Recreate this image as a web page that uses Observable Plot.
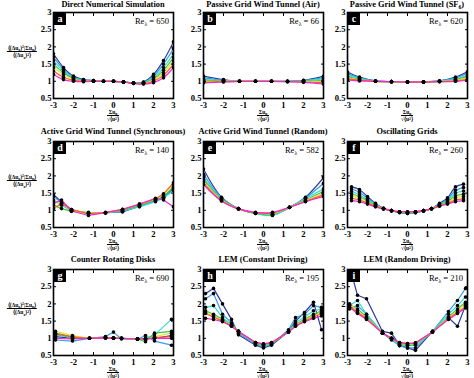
<!DOCTYPE html>
<html><head><meta charset="utf-8">
<script src="https://cdn.jsdelivr.net/npm/d3@7"></script>
<script src="https://cdn.jsdelivr.net/npm/@observablehq/plot@0.6"></script>
<style>
body{margin:0;background:#fff}
#root{position:relative;width:474px;height:378px;font-family:"Liberation Serif",serif;overflow:hidden;background:#fff}
.pnl{position:absolute}
.title{position:absolute;font-weight:bold;font-size:8.4px;text-align:center;white-space:nowrap;transform:translateX(-50%);line-height:1}
.badge{position:absolute;background:#000;color:#fff;font-weight:bold;font-size:10px;width:12px;height:12px;line-height:12px;text-align:center}
.re{position:absolute;font-size:8.5px;white-space:nowrap;text-align:right;line-height:1}
.frac{position:absolute;font-weight:bold;text-align:center;white-space:nowrap;transform:translateX(-50%)}
.frac div{line-height:1.15}
.frac .n{border-bottom:0.6px solid #000;padding:0 1px}
.ylab{font-size:5.6px}
.xlab{font-size:5.5px}
sub,sup{font-size:68%;vertical-align:baseline;position:relative;line-height:0}
sub{top:0.3em} sup{top:-0.45em}
</style></head>
<body><div id="root"></div>
<script>
const colors = ["#2c3a9e","#3a9ee8","#34dcd4","#3cc83c","#e8e23c","#ff5a2a","#f02ccc"];
const panelLetters = ["a","b","c","d","e","f","g","h","i"];
const panelTitles = ["Direct Numerical Simulation","Passive Grid Wind Tunnel (Air)","Passive Grid Wind Tunnel  (SF<sub>6</sub>)",
  "Active Grid Wind Tunnel (Synchronous)","Active Grid Wind Tunnel (Random)","Oscillating Grids",
  "Counter Rotating Disks","LEM (Constant Driving)","LEM (Random Driving)"];
const reValues = [650, 66, 620, 140, 582, 260, 690, 195, 210];
const xTicks = [-3,-2,-1,0,1,2,3];
const yTicks = [0.5,1,1.5,2,2.5,3];

const xsA = [-3,-2.5,-2,-1.5,-1,-0.5,0,0.5,1,1.5,2,2.5,3];
const ysA = [
  [1.80,1.40,1.15,1.05,1.02,1.00,1.00,0.98,0.95,0.98,1.20,1.60,2.15],
  [1.70,1.35,1.12,1.04,1.02,1.00,1.00,0.98,0.95,0.97,1.15,1.50,1.95],
  [1.60,1.30,1.10,1.03,1.01,1.00,1.00,0.98,0.95,0.96,1.10,1.40,1.80],
  [1.50,1.25,1.08,1.02,1.01,1.00,1.00,0.98,0.95,0.95,1.07,1.32,1.70],
  [1.40,1.20,1.06,1.01,1.00,1.00,1.00,0.98,0.94,0.94,1.04,1.25,1.60],
  [1.30,1.12,1.03,1.00,1.00,1.00,1.00,0.98,0.94,0.93,1.00,1.18,1.50],
  [1.20,1.05,1.00,0.99,1.00,1.00,1.00,0.98,0.94,0.92,0.96,1.10,1.40]];
const xsB = [-3,-2,-1.2,-0.4,0.4,1.2,2,3];
const ysB = [
  [1.15,1.05,1.00,1.00,1.00,1.00,1.03,1.15],
  [1.10,1.03,1.00,1.00,1.00,1.00,1.02,1.10],
  [1.06,1.02,1.00,1.00,1.00,1.00,1.01,1.07],
  [1.03,1.01,1.00,1.00,1.00,1.00,1.00,1.03],
  [1.00,1.00,1.00,1.00,1.00,0.99,0.99,1.00],
  [0.97,0.99,1.00,1.00,1.00,0.99,0.98,0.96],
  [0.95,0.98,1.00,1.00,1.00,0.99,0.97,0.92]];
const xsC = [-3,-2.4,-1.6,-0.8,0,0.8,1.6,2.4,3];
const ysC = [
  [1.27,1.12,1.01,0.99,0.98,0.98,1.01,1.12,1.28],
  [1.22,1.10,1.01,0.99,0.98,0.98,1.01,1.10,1.23],
  [1.18,1.08,1.00,0.99,0.98,0.98,1.00,1.07,1.18],
  [1.14,1.06,1.00,0.99,0.98,0.98,1.00,1.05,1.14],
  [1.10,1.04,1.00,0.99,0.98,0.98,1.00,1.03,1.10],
  [1.07,1.03,1.00,0.99,0.98,0.98,0.99,1.01,1.06],
  [1.04,1.01,1.00,0.99,0.98,0.98,0.99,1.00,1.03]];
const xsD = [-3,-2.6,-2.1,-1.25,-0.4,0.45,1.3,2.1,2.5,3];
const ysD = [
  [1.45,1.25,1.02,0.90,0.93,0.95,1.12,1.28,1.38,1.62],
  [1.40,1.22,1.00,0.92,0.93,0.97,1.13,1.28,1.38,1.65],
  [1.30,1.15,0.98,0.90,0.92,0.98,1.10,1.25,1.35,1.58],
  [1.15,1.05,0.97,0.94,0.93,1.00,1.14,1.30,1.40,1.68],
  [1.25,1.18,1.00,0.92,0.93,1.02,1.17,1.32,1.45,1.75],
  [1.05,1.20,1.02,0.90,0.94,1.03,1.18,1.33,1.48,1.80],
  [1.20,1.30,0.98,0.85,0.93,1.02,1.18,1.35,1.30,1.10]];
const xsE = [-3,-2.1,-1.25,-0.4,0.45,1.3,2.1,3];
const ysE = [
  [2.20,1.38,1.05,0.92,0.88,1.08,1.38,1.95],
  [2.05,1.36,1.05,0.91,0.86,1.08,1.36,1.78],
  [1.95,1.34,1.05,0.91,0.85,1.08,1.34,1.62],
  [1.90,1.32,1.05,0.92,0.88,1.09,1.30,1.55],
  [1.85,1.30,1.04,0.93,0.90,1.09,1.28,1.50],
  [1.80,1.28,1.04,0.93,0.92,1.09,1.26,1.45],
  [1.75,1.27,1.04,0.94,0.94,1.09,1.25,1.40]];
const xsF = [-2.8,-2.4,-2.0,-1.6,-1.2,-0.8,-0.4,0,0.4,0.8,1.2,1.6,2.0,2.4,2.8];
const ysF = [
  [1.68,1.60,1.40,1.20,1.06,0.99,0.93,0.91,0.93,0.98,1.05,1.20,1.36,1.68,1.76],
  [1.62,1.52,1.35,1.18,1.06,0.99,0.94,0.91,0.93,0.98,1.05,1.18,1.32,1.58,1.66],
  [1.55,1.45,1.30,1.16,1.05,0.99,0.94,0.92,0.94,0.99,1.05,1.16,1.28,1.50,1.56],
  [1.48,1.40,1.27,1.14,1.05,0.99,0.95,0.93,0.95,0.99,1.05,1.15,1.25,1.42,1.47],
  [1.42,1.35,1.24,1.13,1.05,0.99,0.95,0.94,0.95,0.99,1.05,1.14,1.22,1.36,1.40],
  [1.35,1.30,1.21,1.12,1.04,0.99,0.96,0.95,0.96,0.99,1.04,1.13,1.20,1.30,1.33],
  [1.28,1.25,1.18,1.10,1.04,0.99,0.96,0.96,0.96,0.99,1.04,1.12,1.18,1.25,1.28]];
const xsG = [-2.9,-2.05,-1.2,-0.4,0,0.4,1.2,1.6,2.05,2.9];
const ysG = [
  [1.05,1.00,1.00,1.00,1.00,1.00,0.98,0.99,1.00,1.08],
  [0.95,0.92,1.00,1.05,1.18,0.98,0.97,1.08,0.92,0.80],
  [1.10,1.02,1.00,1.02,1.01,1.00,0.98,1.00,1.10,1.55],
  [1.15,1.05,1.00,1.02,1.01,1.00,0.98,0.90,1.15,1.20],
  [1.20,1.08,1.00,1.02,1.01,1.00,0.98,0.95,1.05,1.15],
  [1.12,1.04,1.00,1.02,1.01,1.00,0.98,0.98,1.02,1.05],
  [1.00,0.98,1.00,1.01,1.00,1.00,0.98,0.98,1.00,1.00]];
const xsH = [-2.9,-2.5,-2.05,-1.6,-1.25,-0.4,0,0.4,1.25,1.6,2.05,2.5,2.9];
const ysH = [
  [2.30,2.45,2.00,1.55,1.10,0.80,0.72,0.80,1.20,1.50,1.75,2.05,1.25],
  [2.15,2.30,1.70,1.45,1.15,0.82,0.75,0.82,1.25,1.60,1.70,1.95,1.90],
  [1.90,1.95,1.60,1.40,1.20,0.85,0.78,0.84,1.20,1.45,1.62,1.80,1.85],
  [1.80,1.70,1.55,1.38,1.20,0.86,0.80,0.85,1.18,1.40,1.55,1.70,1.80],
  [1.75,1.65,1.52,1.37,1.20,0.87,0.82,0.86,1.18,1.38,1.52,1.65,1.75],
  [1.72,1.62,1.50,1.36,1.20,0.88,0.83,0.87,1.18,1.36,1.50,1.62,1.72],
  [1.58,1.55,1.48,1.35,1.20,0.88,0.84,0.88,1.18,1.35,1.48,1.58,1.65]];
const xsI = [-2.9,-2.5,-2.05,-1.25,-0.8,-0.4,0,0.4,1.25,2.05,2.5,2.9];
const ysI = [
  [3.10,2.25,2.15,1.20,1.15,0.80,0.72,0.65,1.20,1.60,1.35,1.95],
  [1.85,1.95,1.70,1.15,0.95,0.78,0.72,0.72,1.20,1.78,2.10,2.45],
  [1.95,2.10,1.70,1.15,0.98,0.82,0.78,0.80,1.20,1.70,1.95,2.20],
  [1.98,1.85,1.62,1.15,1.00,0.85,0.80,0.83,1.18,1.62,1.85,2.05],
  [2.00,1.80,1.60,1.15,1.00,0.86,0.82,0.84,1.18,1.60,1.80,2.00],
  [1.95,1.75,1.58,1.15,1.00,0.87,0.84,0.86,1.18,1.58,1.75,1.92],
  [1.90,1.72,1.55,1.15,1.00,0.88,0.85,0.87,1.18,1.55,1.72,1.88]];

const panelXs = [xsA,xsB,xsC,xsD,xsE,xsF,xsG,xsH,xsI];
const panelYs = [ysA,ysB,ysC,ysD,ysE,ysF,ysG,ysH,ysI];
const smooth = [true,true,true,false,true,true,false,false,false];

// layout (frame boxes)
const colLeft = [53, 203, 347];
const rowTop = [12, 141, 269];
const FW = 120, FH = 86;
const mL = 22, mR = 4, mT = 3, mB = 13;

const root = document.getElementById("root");
const fracY = `<div class="n">⟨(Δu<sub>x</sub>)<sup>2</sup>|Σu<sub>n</sub>⟩</div><div>⟨(Δu<sub>x</sub>)<sup>2</sup>⟩</div>`;
const fracX = `<div class="n">Σu<sub>n</sub></div><div>√⟨u<sup>2</sup>⟩</div>`;

for (let p = 0; p < 9; p++) {
  const r = Math.floor(p / 3), c = p % 3;
  const xs = panelXs[p], ys = panelYs[p];
  const data = [];
  ys.forEach((row, s) => row.forEach((v, i) => data.push({x: xs[i], y: v, s, color: colors[s]})));
  const fmt = d => String(d);
  const chart = Plot.plot({
    width: FW + mL + mR, height: FH + mT + mB,
    marginLeft: mL, marginRight: mR, marginTop: mT, marginBottom: mB,
    x: {domain: [-3, 3]},
    y: {domain: [0.5, 3]},
    color: {type: "identity"},
    style: {fontFamily: "Liberation Serif", fontSize: "8.6px", fontWeight: "bold", background: "transparent", overflow: "visible"},
    marks: [
      Plot.line(data, {x: "x", y: "y", z: "s", stroke: "color", strokeWidth: 1.2,
        curve: smooth[p] ? "catmull-rom" : "linear", clip: true}),
      Plot.dot(data, {x: "x", y: "y", fill: "#000", r: 1.8, clip: true}),
      Plot.frame({strokeWidth: 1.6}),
      Plot.axisX({ticks: xTicks, tickSize: -3, tickPadding: 6, tickFormat: fmt, label: null}),
      Plot.axisX({anchor: "top", ticks: xTicks, tickSize: -3, tickFormat: () => "", label: null}),
      Plot.axisY({ticks: yTicks, tickSize: -3, tickPadding: 5, tickFormat: fmt, label: null}),
      Plot.axisY({anchor: "right", ticks: yTicks, tickSize: -3, tickFormat: () => "", label: null})
    ]
  });
  const wrap = document.createElement("div");
  wrap.className = "pnl";
  wrap.style.left = (colLeft[c] - mL) + "px";
  wrap.style.top = (rowTop[r] - mT) + "px";
  wrap.appendChild(chart);
  root.appendChild(wrap);

  const cx = colLeft[c] + FW / 2;
  const t = document.createElement("div");
  t.className = "title";
  t.innerHTML = panelTitles[p];
  t.style.left = cx + "px";
  t.style.top = (rowTop[r] - (r === 0 ? 11 : 13)) + "px";
  root.appendChild(t);

  const b = document.createElement("div");
  b.className = "badge";
  b.textContent = panelLetters[p];
  b.style.left = (colLeft[c] + 1) + "px";
  b.style.top = (rowTop[r] + 1) + "px";
  root.appendChild(b);

  const re = document.createElement("div");
  re.className = "re";
  re.innerHTML = `Re<sub>λ</sub> = ${reValues[p]}`;
  re.style.right = (474 - colLeft[c] - FW + 4) + "px";
  re.style.top = (rowTop[r] + 5) + "px";
  root.appendChild(re);

  const xl = document.createElement("div");
  xl.className = "frac xlab";
  xl.innerHTML = fracX;
  xl.style.left = cx + "px";
  xl.style.top = (rowTop[r] + FH + 11) + "px";
  root.appendChild(xl);

  if (c === 0) {
    const yl = document.createElement("div");
    yl.className = "frac ylab";
    yl.innerHTML = fracY;
    yl.style.left = "22px";
    yl.style.top = (rowTop[r] + 33) + "px";
    root.appendChild(yl);
  }
}
</script>
</body></html>
